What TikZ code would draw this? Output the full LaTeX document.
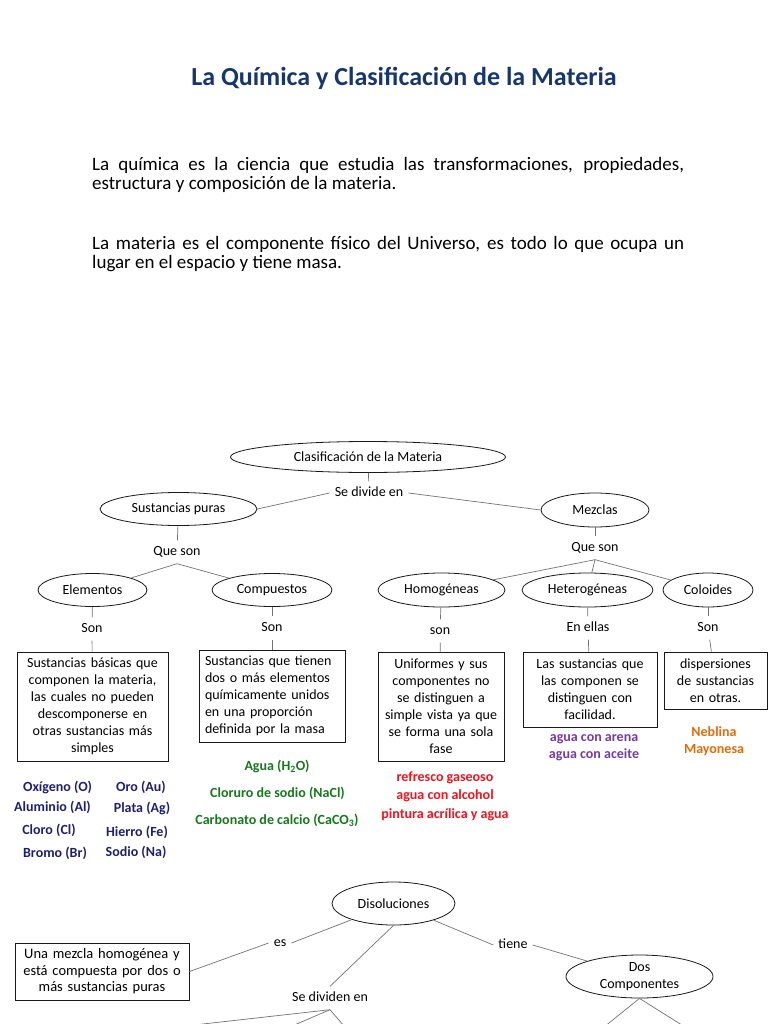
\documentclass[tikz,border=0pt]{standalone}
\usepackage{fontspec}
\setmainfont{Carlito}
\usetikzlibrary{shapes.geometric}

\definecolor{titleblue}{RGB}{23,54,110}
\definecolor{elemblue}{RGB}{32,32,112}
\definecolor{compgreen}{RGB}{24,120,30}
\definecolor{homred}{RGB}{240,20,30}
\definecolor{hetpurple}{RGB}{118,58,168}
\definecolor{colorange}{RGB}{226,108,10}
\tolerance=10000

\begin{document}
\begin{tikzpicture}[
  x=1pt, y=-1pt,
  every node/.style={font=\fontsize{14}{17}\selectfont},
  concept/.style={ellipse, draw=black!90, line width=0.8pt, inner sep=0pt, minimum height=33pt},
  linkword/.style={inner sep=5pt, text height=10pt, text depth=3pt},
  defbox/.style={rectangle, draw=black!90, line width=0.9pt, inner xsep=3pt, align=center},
  example/.style={font=\bfseries\fontsize{14}{17}\selectfont},
  link/.style={draw=black!55, line width=0.7pt}
]
\fill[white] (0,0) rectangle (768,1024);
\useasboundingbox (0,0) rectangle (768,1024);

% Title and text
\node[font=\bfseries\fontsize{26}{30}\selectfont, text=titleblue] (title) at (404,78) {La Química y Clasificación de la Materia};
\node[anchor=north west, inner sep=0pt, text width=592pt, align=justify, font=\fontsize{19}{19.5}\selectfont] (quimica) at (92,157)
  {La química es la ciencia que estudia las transformaciones, propiedades,\linebreak estructura y composición de la materia.};
\node[anchor=north west, inner sep=0pt, text width=592pt, align=justify, font=\fontsize{19}{19.5}\selectfont] (materia) at (92,236)
  {La materia es el componente físico del Universo, es todo lo que ocupa un\linebreak lugar en el espacio y tiene masa.};

% Concepts
\node[concept, minimum width=275pt, minimum height=31pt] (CM) at (368,457) {Clasificación de la Materia};
\node[concept, minimum width=157pt] (SP) at (178.5,509) {Sustancias puras};
\node[concept, minimum width=108pt, minimum height=34pt] (MZ) at (595,510) {Mezclas};
\node[concept, minimum width=109pt] (EL) at (92.5,590) {Elementos};
\node[concept, minimum width=120pt] (CO) at (272,590) {Compuestos};
\node[concept, minimum width=127pt, minimum height=34pt] (HO) at (441.5,590) {Homogéneas};
\node[concept, minimum width=131pt, minimum height=34pt] (HE) at (587.5,590) {Heterogéneas};
\node[concept, minimum width=90pt, minimum height=34pt] (CL) at (708,590) {Coloides};
\node[concept, minimum width=123pt, minimum height=43pt] (DI) at (393.5,903.5) {Disoluciones};
\node[concept, minimum width=147pt, minimum height=43pt, align=center] (DC) at (639.5,976.5) {Dos\\Componentes};

% Link words
\node[linkword] (divide) at (369,493) {Se divide en};
\node[linkword] (queson1) at (177,552) {Que son};
\node[linkword] (queson2) at (595,548) {Que son};
\node[linkword] (son1) at (92,629) {Son};
\node[linkword] (son2) at (272,628) {Son};
\node[linkword] (son3) at (440,631) {son};
\node[linkword] (ellas) at (588,628) {En ellas};
\node[linkword] (son5) at (708,628) {Son};
\node[linkword] (es) at (280,943) {es};
\node[linkword] (tiene) at (513,945) {tiene};
\node[linkword] (dividen) at (330,998) {Se dividen en};

% Definitions
\node[defbox, minimum height=109pt, text width=145pt] (ELbox) at (92.5,706.5)
  {Sustancias básicas que\\componen la materia,\\las cuales no pueden\\descomponerse en\\otras sustancias más\\simples};
\node[defbox, minimum height=92pt, inner xsep=6pt, text width=134pt, align=left] (CObox) at (272,696)
  {Sustancias que tienen\\dos o más elementos\\químicamente unidos\\en una proporción\\definida por la masa};
\node[defbox, minimum height=109pt, text width=120pt] (HObox) at (441,706.5)
  {Uniformes y sus\\componentes no\\se distinguen a\\simple vista ya que\\se forma una sola\\fase};
\node[defbox, minimum height=75pt, text width=128pt] (HEbox) at (590,689.5)
  {Las sustancias que\\las componen se\\distinguen con\\facilidad.};
\node[defbox, minimum height=57pt, text width=97pt] (CLbox) at (715.5,680.5)
  {dispersiones\\de sustancias\\en otras.};
\node[defbox, minimum height=57pt, inner xsep=2pt, text width=170pt, font=\fontsize{14.5}{16.5}\selectfont] (DIbox) at (102,971.5)
  {Una mezcla homogénea y\\está compuesta por dos o\\más sustancias puras};

% Examples
\node[example, text=elemblue] (O) at (57.5,787) {Oxígeno (O)};
\node[example, text=elemblue] (Al) at (52.5,807) {Aluminio (Al)};
\node[example, text=elemblue] (Cl) at (49,830) {Cloro (Cl)};
\node[example, text=elemblue] (Br) at (55,853) {Bromo (Br)};
\node[example, text=elemblue] (Au) at (141,787) {Oro (Au)};
\node[example, text=elemblue] (Ag) at (142,808) {Plata (Ag)};
\node[example, text=elemblue] (Fe) at (137,832) {Hierro (Fe)};
\node[example, text=elemblue] (Na) at (136,852) {Sodio (Na)};

\node[example, text=compgreen] (agua) at (277,766) {Agua (H\textsubscript{2}O)};
\node[example, text=compgreen] (NaCl) at (277.5,793) {Cloruro de sodio (NaCl)};
\node[example, text=compgreen] (CaCO) at (277,820) {Carbonato de calcio (CaCO\textsubscript{3})};

\node[example, text=homred, align=center, font=\bfseries\fontsize{14}{18.5}\selectfont] (homex) at (445,796)
  {refresco gaseoso\\agua con alcohol\\pintura acrílica y agua};
\node[example, text=hetpurple, align=center] (hetex) at (594,747.5) {agua con arena\\agua con aceite};
\node[example, text=colorange, align=center] (colex) at (714,741.5) {Neblina\\Mayonesa};

% Edges
\draw[link] (CM) -- (divide);
\draw[link] (divide.west) -- (SP.east);
\draw[link] (divide.east) -- (MZ.west);

\draw[link] (SP) -- (queson1);
\draw[link] (queson1.south) -- (EL);
\draw[link] (queson1.south) -- (CO);

\draw[link] (MZ) -- (queson2);
\draw[link] (queson2.south) -- (HO);
\draw[link] (queson2.south) -- (HE);
\draw[link] (queson2.south) -- (CL);

\draw[link] (EL) -- (son1);
\draw[link] (son1) -- (ELbox);
\draw[link] (CO) -- (son2);
\draw[link] (son2) -- (CObox);
\draw[link] (HO) -- (son3);
\draw[link] (son3) -- (HObox);
\draw[link] (HE) -- (ellas);
\draw[link] (ellas) -- (HEbox);
\draw[link] (CL) -- (son5);
\draw[link] (son5) -- (CLbox);

\draw[link] (DI) -- (es.east);
\draw[link] (es.west) -- (DIbox.east);
\draw[link] (DI) -- (tiene.west);
\draw[link] (tiene.east) -- (DC);
\draw[link] (DI.south) -- (dividen.north);

% Lines running off the page
\coordinate (d1) at (185,1026);
\coordinate (d2) at (292,1026);
\coordinate (d3) at (344,1026);
\coordinate (c1) at (604,1027);
\coordinate (c2) at (685,1027);
\draw[link] (dividen.south) -- (d1);
\draw[link] (dividen.south) -- (d2);
\draw[link] (dividen.south) -- (d3);
\draw[link] (DC.south) -- (c1);
\draw[link] (DC.south) -- (c2);

\end{tikzpicture}
\end{document}
